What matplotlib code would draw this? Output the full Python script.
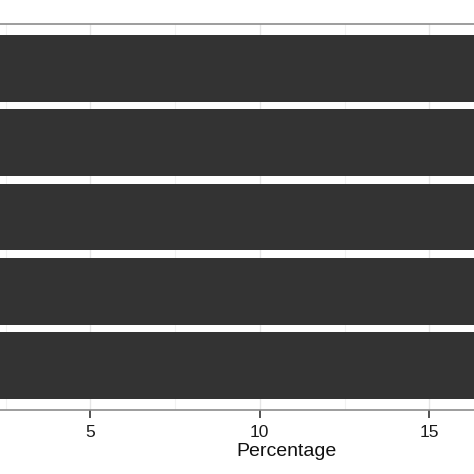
import matplotlib
matplotlib.use("Agg")
import matplotlib.pyplot as plt
from matplotlib.ticker import MultipleLocator

plt.rcParams['font.family'] = ['Liberation Sans', 'DejaVu Sans']

# bars run past the visible window on the right, so only a lower bound is readable
categories = ['A', 'B', 'C', 'D', 'E']
percentages = [20, 19, 18.5, 18, 17.5]

xticks = [5, 10, 15]

fig = plt.figure(figsize=(4.74, 4.74), dpi=100)
# panel spans the whole width (the picture is a crop of a wider chart)
top_px, bottom_px = 24, 410
ax = fig.add_axes([0, 1 - bottom_px / 474, 1, (bottom_px - top_px) / 474])

pos = list(range(len(categories)))
ax.barh(pos, percentages, height=0.9, color='#333333', zorder=3)

ax.set_xlim(2.336, 16.32)
ax.set_ylim(len(categories) - 1 + 0.6, -0.6)

ax.set_xticks(xticks)
ax.xaxis.set_minor_locator(MultipleLocator(2.5))
ax.grid(which='major', axis='x', color='#e6e6e6', lw=1.0, zorder=0)
ax.grid(which='minor', axis='x', color='#f2f2f2', lw=0.8, zorder=0)
ax.set_yticks([])

ax.tick_params(axis='x', which='major', length=6, width=1.2, color='#333333',
               labelsize=12.5, labelcolor='#1a1a1a', pad=5)
ax.tick_params(axis='x', which='minor', length=0)

for side in ['left', 'right']:
    ax.spines[side].set_visible(False)
for side in ['top', 'bottom']:
    ax.spines[side].set_color('#8c8c8c')
    ax.spines[side].set_linewidth(1.2)

ax.set_xlabel('Percentage', fontsize=14, color='#111111')
ax.xaxis.set_label_coords(286 / 474, -(452 - bottom_px) / (bottom_px - top_px))
ax.xaxis.label.set_va('center')

fig.savefig('out.png', dpi=100)
